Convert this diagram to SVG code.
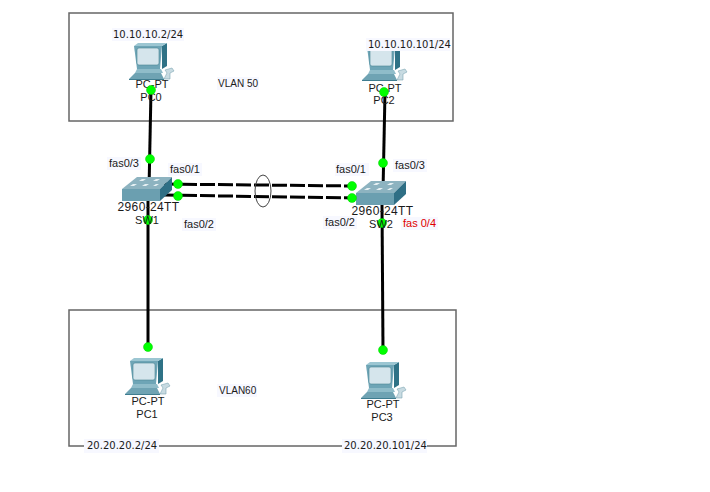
<svg xmlns="http://www.w3.org/2000/svg" width="710" height="492" viewBox="0 0 710 492">
<style>
text{font-family:"Liberation Sans",Arial,sans-serif;font-size:11px;fill:#1a1a1a}
.m{text-anchor:middle}
.ip{font-family:"DejaVu Sans",sans-serif;font-size:10px}
.model{font-size:12px;letter-spacing:.35px}
.bg{fill:#f7f8ff;stroke:none}
.area{fill:none;stroke:#666;stroke-width:1.5}
.solid{stroke:#000;stroke-width:3;fill:none}
.dash{stroke:#000;stroke-width:3;fill:none;stroke-dasharray:15 3;stroke-dashoffset:14}
.dot{fill:#0f0;stroke:#0c0;stroke-width:.5}
</style>
<defs>
<g id="pc">
<path d="M-5 36L1 30H27L30 36Z" fill="#6fa3b3"/>
<path d="M-5 36H30V37H-5Z" fill="#3f7d90"/>
<path d="M3 26H27L29 30H1Z" fill="#8fbcc9"/>
<path d="M28 3L33 0V23L28 26Z" fill="#2f7286"/>
<path d="M0 3L4 0H33L28 3Z" fill="#9cc6d2"/>
<path d="M0 3H28L26 26H3Z" fill="#6ea5b6"/>
<rect x="3" y="5" width="22" height="17" rx="2" fill="#d5e5ec" stroke="#4a8496" stroke-width=".6"/>
<path d="M31 27L38 25L40 28L36 30L36 36H30L33 30Z" fill="#c8dbe2" stroke="#7da6b4" stroke-width=".6"/>
</g>
<g id="sw">
<path d="M0 12L15 0H50L38 12Z" fill="#8db3c0"/>
<path d="M38 12L50 0V13L38 24Z" fill="#2f6f85"/>
<rect x="0" y="12" width="38" height="12" fill="#6b9fb0"/>
<path d="M8 9l3-2h4l-3 2zM20 9l3-2h4l-3 2zM17 4l3-2h4l-3 2zM31 4l3-2h4l-3 2zM31 9l3-2h3l-3 2z" fill="#e6f0f3"/>
</g>
</defs>

<rect class="area" x="69" y="13" width="384" height="108"/>
<rect class="area" x="69" y="310" width="387" height="136"/>

<g id="connectors">
<path class="solid" d="M151 90L149 190"/>
<path class="solid" d="M148 200V347"/>
<path class="solid" d="M385 92L383 192"/>
<path class="solid" d="M382 204L383 350"/>
<path class="dash" d="M160 184L356 186"/>
<path class="dash" d="M160 195L356 198"/>
</g>

<g id="ports-under">
<circle class="dot" cx="148" cy="220" r="4.500"/><circle class="dot" cx="382" cy="223" r="4.500"/>
</g>

<g id="PC0"><use href="#pc" x="134" y="43"/><text class="m" x="152" y="88">PC-PT</text><text class="m" x="151" y="101">PC0</text></g>
<g id="PC2"><use href="#pc" x="367" y="44"/><text class="m" x="385" y="92">PC-PT</text><text class="m" x="384" y="104">PC2</text></g>
<g id="PC1"><use href="#pc" x="130" y="358"/><text class="m" x="148" y="405">PC-PT</text><text class="m" x="147" y="418">PC1</text></g>
<g id="PC3"><use href="#pc" x="366" y="362"/><text class="m" x="383" y="408">PC-PT</text><text class="m" x="382" y="421">PC3</text></g>
<g id="SW1"><use href="#sw" x="122" y="177"/><text class="m model" x="148.500" y="211">2960-24TT</text><text class="m" x="147" y="224">SW1</text></g>
<g id="SW2"><use href="#sw" x="356" y="181"/><text class="m model" x="382.500" y="215">2960-24TT</text><text class="m" x="381" y="228">SW2</text></g>

<g id="ports">
<circle class="dot" cx="151" cy="90" r="4.500"/><circle class="dot" cx="150" cy="159" r="4.500"/>
<circle class="dot" cx="178" cy="184" r="4.500"/><circle class="dot" cx="178" cy="196" r="4.500"/>
<circle class="dot" cx="352" cy="186" r="4.500"/><circle class="dot" cx="352" cy="198" r="4.500"/>
<circle class="dot" cx="384" cy="92" r="4.500"/><circle class="dot" cx="383" cy="163" r="4.500"/>
<circle class="dot" cx="148" cy="347" r="4.500"/><circle class="dot" cx="383" cy="350" r="4.500"/>
</g>

<ellipse id="bundle" cx="263" cy="191" rx="8" ry="16" fill="none" stroke="#444" stroke-width="1"/>

<g id="labels">
<rect class="bg" x="112" y="28" width="72" height="13"/><text class="ip" x="113" y="38">10.10.10.2/24</text>
<rect class="bg" x="366" y="38" width="84" height="13"/><text class="ip" x="368" y="48">10.10.10.101/24</text>
<rect class="bg" x="217" y="77" width="42" height="13"/><text x="218" y="87" style="font-size:10px">VLAN 50</text>
<rect class="bg" x="217" y="384" width="40" height="13"/><text x="219" y="394" style="font-size:10px">VLAN60</text>
<rect class="bg" x="84" y="439" width="75" height="14"/><text class="ip" x="87" y="449">20.20.20.2/24</text>
<rect class="bg" x="342" y="439" width="85" height="14"/><text class="ip" x="344" y="449">20.20.20.101/24</text>
<rect class="bg" x="107" y="157" width="34" height="13"/><text x="109" y="167">fas0/3</text>
<rect class="bg" x="168" y="163" width="34" height="13"/><text x="170" y="173">fas0/1</text>
<rect class="bg" x="182" y="218" width="34" height="13"/><text x="184" y="228">fas0/2</text>
<rect class="bg" x="335" y="163" width="34" height="13"/><text x="336" y="173">fas0/1</text>
<rect class="bg" x="393" y="159" width="34" height="13"/><text x="395" y="169">fas0/3</text>
<rect class="bg" x="323" y="216" width="34" height="13"/><text x="325" y="226">fas0/2</text>
<rect class="bg" x="401" y="217" width="37" height="13"/><text x="403" y="227" style="fill:#e00000">fas 0/4</text>
</g>
</svg>
